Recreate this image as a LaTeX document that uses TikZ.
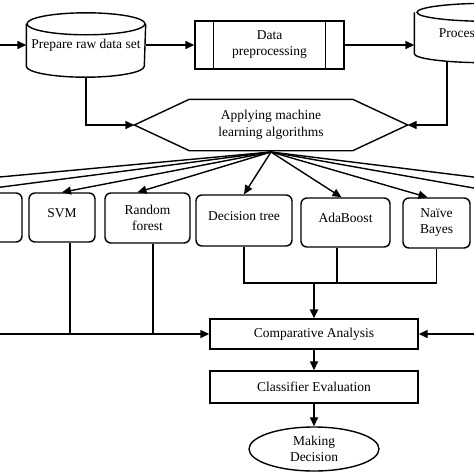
\documentclass[tikz,border=0pt]{standalone}
\usepackage{fontspec}
\setmainfont{Liberation Serif}
\usetikzlibrary{arrows.meta}
\usetikzlibrary{shapes.geometric}
\usetikzlibrary{calc}

\tikzset{
    stepbox/.style={draw, rectangle, inner sep=0pt, align=center},
    algbox/.style={draw, rectangle, rounded corners=6pt, inner sep=0pt, align=center},
    uptext/.style={text depth=9pt},
    arr/.style={-{Triangle[length=9pt,width=8pt]}},
}

\begin{document}
\begin{tikzpicture}[x=1pt, y=-1pt, line width=1.4pt, font=\fontsize{13.5}{16}\selectfont]
        \useasboundingbox (0,0) rectangle (474,474);
        \clip (0,0) rectangle (474,474);

        % free ends of the cut connectors
        \coordinate (src) at (-10,45);
        \coordinate (farL) at (-174,193);
        \coordinate (farR1) at (513,195);
        \coordinate (farR2) at (619,195);
        \coordinate (lin) at (-10,334);
        \coordinate (rin) at (484,334);
        \coordinate (fan) at (271,152);
        \coordinate (join) at (314,283);

        % data preparation
        \node[minimum width=118, minimum height=41, inner sep=0pt] (raw) at (86,45) {Prepare raw data set};
        \draw (raw.north) ellipse [x radius=59pt, y radius=11pt];
        \draw (raw.north west) -- (raw.south west) arc[start angle=180, end angle=360, x radius=59pt, y radius=11pt] -- (raw.north east);

        \node[stepbox, minimum width=149, minimum height=48] (prep) at (269.5,45) {Data\\preprocessing};
        \draw ([xshift=19pt]prep.north west) -- ([xshift=19pt]prep.south west);
        \draw ([xshift=-19pt]prep.north east) -- ([xshift=-19pt]prep.south east);

        \node[minimum width=146, minimum height=40, inner sep=0pt] (proc) at (488,33) {Processed data set};
        \draw (proc.north) ellipse [x radius=71pt, y radius=9pt];
        \draw (proc.north west) -- (proc.south west) arc[start angle=180, end angle=360, x radius=71pt, y radius=9pt] -- (proc.north east);

        \draw[arr] (src) -- (raw.west);
        \draw[arr] (raw.east) -- (prep.west);
        \draw[arr] (prep.east) -- (prep.east -| proc.west);

        % algorithms
        \node[minimum width=272, minimum height=50, inner sep=0pt, align=center, font=\fontsize{13.5}{17}\selectfont] (alg) at (271,125) {Applying machine\\learning algorithms};
        \draw (alg.west) -- ([xshift=55pt]alg.north west) -- ([xshift=-55pt]alg.north east) -- (alg.east)
            -- ([xshift=-55pt]alg.south east) -- ([xshift=55pt]alg.south west) -- cycle;

        \draw[arr] ([yshift=-11pt]raw.south) |- (alg.west);
        \draw[arr] ([xshift=-41pt,yshift=-7.3pt]proc.south) |- (alg.east);

        % classifiers
        \node[algbox, minimum width=68, minimum height=49] (lft) at (-12,217.5) {};
        \node[algbox, uptext, minimum width=66, minimum height=49] (svm) at (62,217.5) {SVM};
        \node[algbox, minimum width=85, minimum height=50] (rf) at (147.5,218) {Random\\forest};
        \node[algbox, uptext, minimum width=96, minimum height=51] (dt) at (244,220.5) {Decision tree};
        \node[algbox, uptext, minimum width=89, minimum height=49] (ada) at (345.5,222.5) {AdaBoost};
        \node[algbox, minimum width=67, minimum height=50] (nb) at (436.5,223) {Na\"{\i}ve\\Bayes};

        \draw[arr] (fan) -- (farL);
        \draw[arr] (fan) -- ([xshift=-27pt]lft.north);
        \draw[arr] (fan) -- (svm.north);
        \draw[arr] (fan) -- ([xshift=-10pt]rf.north);
        \draw[arr] (fan) -- (dt.north);
        \draw[arr] (fan) -- ([xshift=-4pt]ada.north);
        \draw[arr] (fan) -- ([xshift=-9pt]nb.north);
        \draw[arr] (fan) -- (farR1);
        \draw[arr] (fan) -- (farR2);

        % analysis
        \node[stepbox, minimum width=208, minimum height=30] (comp) at (314,334) {Comparative Analysis};
        \node[stepbox, minimum width=208, minimum height=32] (eval) at (314,387) {Classifier Evaluation};
        \node[draw, ellipse, minimum width=130, minimum height=44, inner sep=0pt, align=center] (dec) at (314,449) {Making\\Decision};

        \draw ([xshift=8pt]svm.south) -- ([xshift=8pt]svm.south |- comp.west);
        \draw ([xshift=5.5pt]rf.south) -- ([xshift=5.5pt]rf.south |- comp.west);
        \draw[arr] (lin) -- (comp.west);
        \draw (dt.south) |- (nb.south |- join) -- (nb.south);
        \draw ([xshift=-8.5pt]ada.south) -- ([xshift=-8.5pt]ada.south |- join);
        \draw[arr, line width=2.2pt] (join) -- (comp.north);
        \draw[arr] (rin) -- (comp.east);

        \draw[arr] (comp.south) -- (eval.north);
        \draw[arr] (eval.south) -- (dec.north);
    \end{tikzpicture}
\end{document}
